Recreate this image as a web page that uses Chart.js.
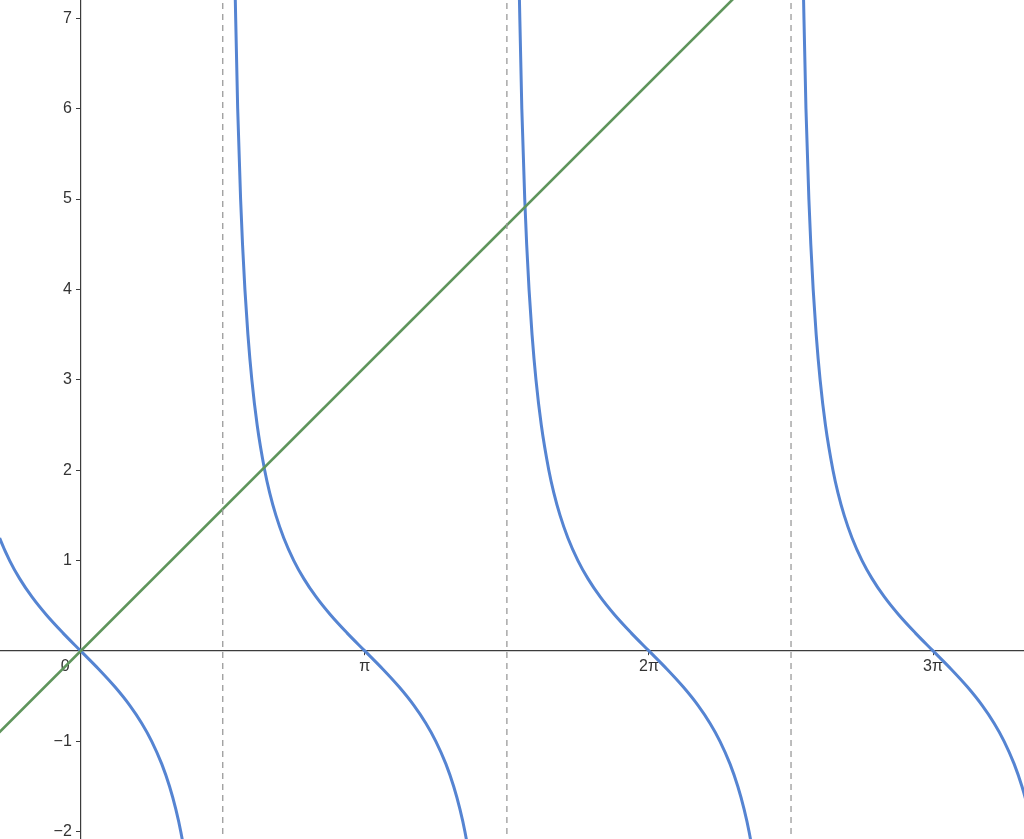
<!DOCTYPE html>
<html>
<head>
<meta charset="utf-8">
<script src="https://cdn.jsdelivr.net/npm/chart.js@4/dist/chart.umd.min.js"></script>
<style>
  html, body { margin: 0; padding: 0; background: #ffffff; }
  #wrap { width: 1024px; height: 839px; position: relative; }
</style>
</head>
<body>
<div id="wrap"><canvas id="c"></canvas></div>
<script>
// ---- data ----
// y = -tan(x): one list of y values shared by every branch, x positions per branch
const curveY = [7.5, 6, 5, 4.5, 4, 3.5, 3, 2.5, 2, 1.75, 1.5, 1.25, 1, 0.8, 0.6, 0.4, 0.2, 0,
  -0.2, -0.4, -0.6, -0.8, -1, -1.25, -1.5, -1.75, -2, -2.5, -3];
const branch0X = [-1.4382, -1.4056, -1.3734, -1.3521, -1.3258, -1.2925, -1.2490, -1.1903, -1.1071, -1.0517,
  -0.9828, -0.8961, -0.7854, -0.6747, -0.5404, -0.3805, -0.1974, 0, 0.1974, 0.3805, 0.5404, 0.6747,
  0.7854, 0.8961, 0.9828, 1.0517, 1.1071, 1.1903, 1.2490];
const branch1X = [1.7034, 1.7360, 1.7682, 1.7895, 1.8158, 1.8491, 1.8926, 1.9513, 2.0345, 2.0899,
  2.1588, 2.2455, 2.3562, 2.4669, 2.6012, 2.7611, 2.9442, 3.1416, 3.3390, 3.5221, 3.6820, 3.8163,
  3.9270, 4.0377, 4.1244, 4.1933, 4.2487, 4.3319, 4.3906];
const branch2X = [4.8450, 4.8776, 4.9098, 4.9311, 4.9574, 4.9907, 5.0342, 5.0929, 5.1761, 5.2315,
  5.3004, 5.3871, 5.4978, 5.6085, 5.7428, 5.9027, 6.0858, 6.2832, 6.4806, 6.6637, 6.8236, 6.9579,
  7.0686, 7.1793, 7.2660, 7.3349, 7.3903, 7.4735, 7.5322];
const branch3X = [7.9866, 8.0192, 8.0514, 8.0727, 8.0990, 8.1323, 8.1758, 8.2345, 8.3177, 8.3731,
  8.4420, 8.5287, 8.6394, 8.7501, 8.8844, 9.0443, 9.2274, 9.4248, 9.6222, 9.8053, 9.9652, 10.0995,
  10.2102, 10.3209, 10.4076, 10.4765, 10.5329, 10.6151, 10.6738];
// y = x
const lineX = [-1, 9];
const lineY = [-1, 9];
// vertical asymptotes (dashed)
const asymptoteX = [1.5708, 4.7124, 7.8540];
const asymptoteY = [-3, 8];
// axes
const xMin = -0.892, xMax = 10.43;
const yMin = -2.081, yMax = 7.2025;
const xTickValues = [0, 3.14159, 6.28319, 9.42478];
const xTickLabels = ['0       ', 'π', '2π', '3π'];
const yTickStep = 1;

// ---- build datasets ----
const pts = (xs, ys) => xs.map((x, i) => ({ x: x, y: ys[i] }));
const BLUE = '#5584d2';
const GREEN = '#5f955c';
const AXIS = '#3c3c3c';
const TEXT = '#333333';
const FONT = { family: "'Liberation Sans', Arial, sans-serif", size: 16 };

const datasets = [];
asymptoteX.forEach(ax => {
  datasets.push({
    data: pts([ax, ax], asymptoteY),
    borderColor: '#9a9a9a', borderWidth: 1.3, borderDash: [6, 5],
    pointRadius: 0, showLine: true, fill: false
  });
});
datasets.push({
  data: pts(lineX, lineY),
  borderColor: GREEN, borderWidth: 2.6, pointRadius: 0, showLine: true, fill: false
});
[branch0X, branch1X, branch2X, branch3X].forEach(bx => {
  datasets.push({
    data: pts(bx, curveY),
    borderColor: BLUE, borderWidth: 3, pointRadius: 0, showLine: true, fill: false,
    cubicInterpolationMode: 'monotone'
  });
});

const noPad = s => { s.paddingTop = 0; s.paddingBottom = 0; s.paddingLeft = 0; s.paddingRight = 0; };

new Chart(document.getElementById('c'), {
  type: 'scatter',
  data: { datasets: datasets },
  options: {
    responsive: true,
    maintainAspectRatio: false,
    animation: false,
    layout: { padding: 0 },
    plugins: { legend: { display: false }, tooltip: { enabled: false } },
    scales: {
      x: {
        type: 'linear',
        min: xMin, max: xMax,
        position: { y: 0 },
        afterBuildTicks: s => { s.ticks = xTickValues.map(v => ({ value: v })); },
        afterFit: noPad,
        grid: { display: true, drawOnChartArea: false, drawTicks: true, tickLength: 4, color: AXIS, lineWidth: 1 },
        border: { display: true, color: AXIS, width: 1.2 },
        ticks: {
          autoSkip: false, maxRotation: 0, padding: 2,
          color: TEXT, font: FONT,
          callback: (v, i) => xTickLabels[i]
        }
      },
      y: {
        type: 'linear',
        min: yMin, max: yMax,
        position: { x: 0 },
        afterFit: noPad,
        grid: { display: true, drawOnChartArea: false, drawTicks: true, tickLength: 4, color: AXIS, lineWidth: 1 },
        border: { display: true, color: AXIS, width: 1.2 },
        ticks: {
          stepSize: yTickStep, includeBounds: false, padding: 3,
          color: TEXT, font: FONT,
          callback: v => (v === 0 ? '' : (v < 0 ? '\u2212' + Math.abs(v) : String(v)) + '  ')
        }
      }
    }
  }
});
</script>
</body>
</html>
